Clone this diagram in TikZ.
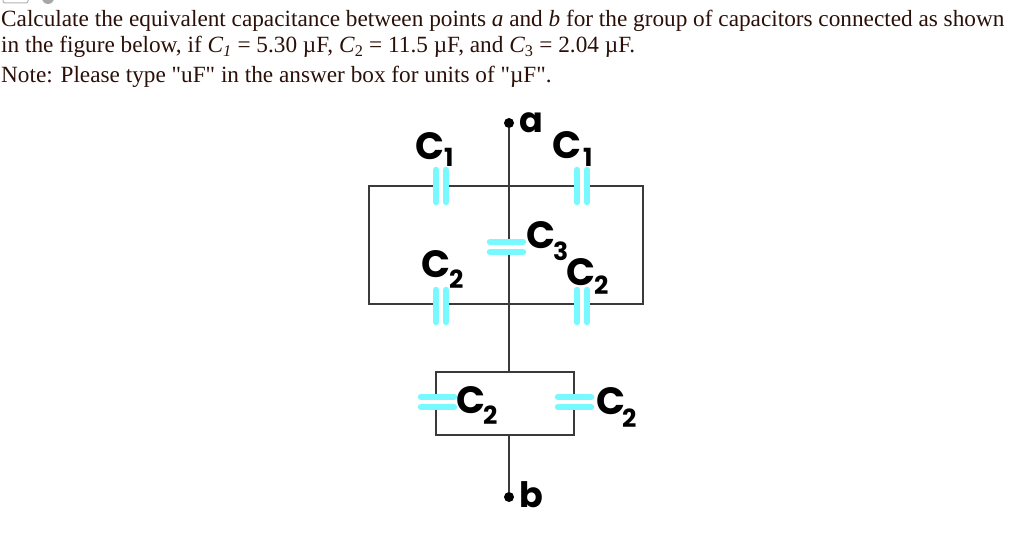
\documentclass[tikz,border=0pt]{standalone}
\usepackage{fontspec}
\setmainfont{Liberation Serif}
\newfontfamily\prosefont{Liberation Serif}
\newfontfamily\lblfont{Poppins}
\definecolor{plate}{HTML}{78F8FF}
\definecolor{wire}{HTML}{3A3A3A}
\definecolor{ink}{HTML}{2A1008}
\tikzset{
  wirestyle/.style={draw=wire,line width=1.3pt},
  platestyle/.style={draw=plate,line width=6.5pt,line cap=round},
  prose/.style={anchor=base west,inner sep=0pt,text=ink,font=\prosefont\fontsize{23.25}{26}\selectfont},
  ptlbl/.style={inner sep=0pt,anchor=base west,text=black,font=\lblfont\bfseries\fontsize{35}{38}\selectfont},
  lbl/.style={inner sep=0pt,anchor=base west,text=black,font=\lblfont\bfseries\fontsize{38}{40}\selectfont},
  sub/.style={inner sep=0pt,anchor=base west,text=black,font=\lblfont\bfseries\fontsize{25}{28}\selectfont},
  dot/.style={circle,fill=black,inner sep=0pt,minimum size=10pt}
}
\begin{document}
\begin{tikzpicture}[x=1pt,y=-1pt]
\useasboundingbox (0,0) rectangle (1024,548);
\node[prose] (t1) at (1,26.7) {Calculate the equivalent capacitance between points \textit{a} and \textit{b} for the group of capacitors connected as shown};
\node[prose] (t2) at (1,52.5) {in the figure below, if \textit{C\textsubscript{1}} = 5.30 µF, \textit{C}\textsubscript{2} = 11.5 µF, and \textit{C}\textsubscript{3} = 2.04 µF.};
\node[prose] (t3) at (1,82.7) {Note: Please type "uF" in the answer box for units of "µF".};

\draw[gray!60,line width=1pt,rounded corners=2pt] (3,-3) -- (3,3) -- (28,3) -- (28,-3);
\fill[gray!70] (48,-2) circle (6pt);

\node[dot] (a) at (509,123) {};
\node[dot] (b) at (509,497) {};
\coordinate (tl) at (369,186);
\coordinate (br) at (643,304);
\coordinate (ltl) at (436,372);
\coordinate (lbr) at (574,435);
\coordinate (ltop) at (509,372);
\coordinate (lbot) at (509,435);

\draw[wirestyle] (a) -- (ltop);
\draw[wirestyle] (lbot) -- (b);
\draw[wirestyle] (tl) rectangle (br);
\draw[wirestyle] (ltl) rectangle (lbr);

% the wire stops at the gap between the two plates
\fill[white] (437,180) rectangle (446,192);
\fill[white] (578,180) rectangle (587,192);
\fill[white] (437,298) rectangle (446,310);
\fill[white] (578,298) rectangle (587,310);
\fill[white] (503,243) rectangle (515,252);
\fill[white] (430,398) rectangle (442,407);
\fill[white] (568,398) rectangle (580,407);

% plates
\foreach \x in {436,446,577,587} {
  \draw[platestyle] (\x,170) -- (\x,202);
  \draw[platestyle] (\x,290) -- (\x,322);
}
\foreach \y in {242,252} \draw[platestyle] (490,\y) -- (523,\y);
\foreach \y in {397,407} {
  \draw[platestyle] (421,\y) -- (454,\y);
  \draw[platestyle] (558,\y) -- (591,\y);
}

% labels
\node[ptlbl] (la) at (519,133) {a};
\node[ptlbl] (lb) at (519,507) {b};
\node[lbl] (c1l) at (415,160) {C};
\node[sub] (c1ls) at (444,167) {1};
\node[lbl] (c1r) at (552,159) {C};
\node[sub] (c1rs) at (583,167) {1};
\node[lbl] (c3) at (526,248) {C};
\node[sub] (c3s) at (553,260) {3};
\node[lbl] (c2l) at (421,277) {C};
\node[sub] (c2ls) at (449,288) {2};
\node[lbl] (c2r) at (566,285) {C};
\node[sub] (c2rs) at (594,294) {2};
\node[lbl] (c2b) at (456,413) {C};
\node[sub] (c2bs) at (483,424) {2};
\node[lbl] (c2c) at (596,414) {C};
\node[sub] (c2cs) at (622,427) {2};
\end{tikzpicture}
\end{document}
